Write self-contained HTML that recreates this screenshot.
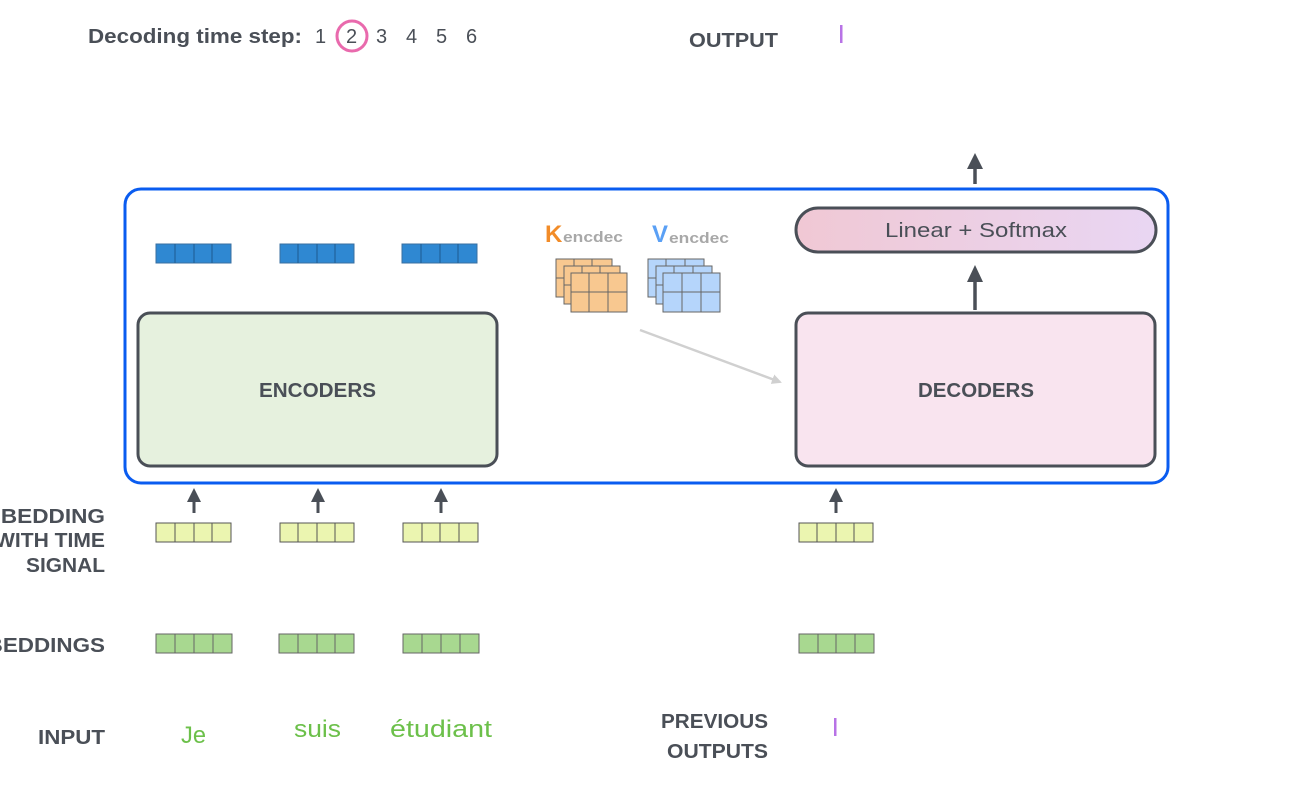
<!DOCTYPE html>
<html><head><meta charset="utf-8"><style>
html,body{margin:0;padding:0;background:#fff;}
svg{display:block;font-family:"Liberation Sans",sans-serif;}
.t{fill:#4a4f57;font-weight:bold;font-size:20px;}
</style></head><body>
<svg width="1291" height="790" viewBox="0 0 1291 790" xmlns="http://www.w3.org/2000/svg">
<defs>
<linearGradient id="lg" x1="0" x2="1" y1="0" y2="0"><stop offset="0" stop-color="#f0c8d4"/><stop offset="1" stop-color="#e9d6f3"/></linearGradient>
<marker id="ga" markerWidth="10" markerHeight="10" refX="8" refY="5" orient="auto" markerUnits="userSpaceOnUse"><path d="M0,0 L10,5 L0,10 z" fill="#d0d0d0"/></marker>
</defs>
<text x="88" y="43" fill="#4a4f57" font-size="20" font-weight="bold" textLength="214" lengthAdjust="spacingAndGlyphs">Decoding time step:</text>
<text x="315" y="43" fill="#4a4f57" font-size="20">1</text>
<circle cx="352" cy="36" r="15" fill="none" stroke="#e96aad" stroke-width="3"/>
<text x="346" y="43" fill="#4a4f57" font-size="20">2</text>
<text x="376" y="43" fill="#4a4f57" font-size="20">3</text>
<text x="406" y="43" fill="#4a4f57" font-size="20">4</text>
<text x="436" y="43" fill="#4a4f57" font-size="20">5</text>
<text x="466" y="43" fill="#4a4f57" font-size="20">6</text>
<text x="689" y="47" class="t" textLength="89" lengthAdjust="spacingAndGlyphs">OUTPUT</text>
<rect x="840" y="25" width="2.5" height="18" fill="#b873e6"/>

<line x1="975" y1="184" x2="975" y2="168" stroke="#4a4f57" stroke-width="3.5"/>
<path d="M967,169 L975,153 L983,169 z" fill="#4a4f57"/>

<rect x="125" y="189" width="1043" height="294" rx="16" fill="none" stroke="#0a5cf0" stroke-width="3"/>

<g stroke="#3a6fa0" stroke-width="1" fill="#2f88d2">
<rect x="156" y="244" width="75" height="19"/><rect x="280" y="244" width="74" height="19"/><rect x="402" y="244" width="75" height="19"/>
</g>
<g stroke="#1e5a90" stroke-width="1">
<line x1="175" y1="244" x2="175" y2="263"/><line x1="194" y1="244" x2="194" y2="263"/><line x1="212" y1="244" x2="212" y2="263"/>
<line x1="298" y1="244" x2="298" y2="263"/><line x1="317" y1="244" x2="317" y2="263"/><line x1="335" y1="244" x2="335" y2="263"/>
<line x1="421" y1="244" x2="421" y2="263"/><line x1="440" y1="244" x2="440" y2="263"/><line x1="458" y1="244" x2="458" y2="263"/>
</g>

<text x="545" y="242" fill="#f28c28" font-size="24" font-weight="bold">K</text>
<text x="563" y="242" fill="#a8a8a8" font-size="15" font-weight="bold" textLength="60" lengthAdjust="spacingAndGlyphs">encdec</text>
<text x="652" y="242" fill="#5aa0f5" font-size="24" font-weight="bold">V</text>
<text x="669" y="243" fill="#a8a8a8" font-size="15" font-weight="bold" textLength="60" lengthAdjust="spacingAndGlyphs">encdec</text>
<g stroke="#666" stroke-width="1" fill="#f8c890">
<rect x="556" y="259" width="56" height="38"/><rect x="564" y="266" width="56" height="38"/><rect x="571" y="273" width="56" height="39"/>
<path d="M574,259V266M592,259V266M556,278H564M582,266V273M600,266V273M564,285H571M589,273V312M608,273V312M571,292H627" fill="none"/>
</g>
<g stroke="#666" stroke-width="1" fill="#b5d5fb">
<rect x="648" y="259" width="56" height="38"/><rect x="656" y="266" width="56" height="38"/><rect x="663" y="273" width="57" height="39"/>
<path d="M666,259V266M685,259V266M648,278H656M674,266V273M693,266V273M656,285H663M682,273V312M701,273V312M663,292H720" fill="none"/>
</g>
<line x1="640" y1="330" x2="780" y2="382" stroke="#d0d0d0" stroke-width="2.5" marker-end="url(#ga)"/>

<rect x="796" y="208" width="360" height="44" rx="22" fill="url(#lg)" stroke="#4a4f57" stroke-width="3"/>
<text x="885" y="237" fill="#4a4f57" font-size="20" textLength="182" lengthAdjust="spacingAndGlyphs">Linear + Softmax</text>
<line x1="975" y1="310" x2="975" y2="280" stroke="#4a4f57" stroke-width="3.5"/>
<path d="M967,282 L975,265 L983,282 z" fill="#4a4f57"/>

<rect x="138" y="313" width="359" height="153" rx="12" fill="#e6f1de" stroke="#4a4f57" stroke-width="3"/>
<text x="259" y="397" class="t" textLength="117" lengthAdjust="spacingAndGlyphs">ENCODERS</text>
<rect x="796" y="313" width="359" height="153" rx="12" fill="#f9e4ef" stroke="#4a4f57" stroke-width="3"/>
<text x="918" y="397" class="t" textLength="116" lengthAdjust="spacingAndGlyphs">DECODERS</text>

<g fill="#4a4f57" stroke="#4a4f57">
<line x1="194" y1="513" x2="194" y2="500" stroke-width="3"/><path d="M187,502 L194,488 L201,502 z" stroke="none"/>
<line x1="318" y1="513" x2="318" y2="500" stroke-width="3"/><path d="M311,502 L318,488 L325,502 z" stroke="none"/>
<line x1="441" y1="513" x2="441" y2="500" stroke-width="3"/><path d="M434,502 L441,488 L448,502 z" stroke="none"/>
<line x1="836" y1="513" x2="836" y2="500" stroke-width="3"/><path d="M829,502 L836,488 L843,502 z" stroke="none"/>
</g>

<g stroke="#555" stroke-width="1" fill="#ebf5b0">
<rect x="156" y="523" width="75" height="19"/><rect x="280" y="523" width="74" height="19"/><rect x="403" y="523" width="75" height="19"/><rect x="799" y="523" width="74" height="19"/>
<path d="M175,523V542M194,523V542M212,523V542M298,523V542M317,523V542M335,523V542M422,523V542M440,523V542M459,523V542M817,523V542M836,523V542M854,523V542" fill="none"/>
</g>
<g stroke="#666" stroke-width="1" fill="#a8d890">
<rect x="156" y="634" width="76" height="19"/><rect x="279" y="634" width="75" height="19"/><rect x="403" y="634" width="76" height="19"/><rect x="799" y="634" width="75" height="19"/>
<path d="M175,634V653M194,634V653M213,634V653M298,634V653M317,634V653M335,634V653M422,634V653M441,634V653M460,634V653M818,634V653M836,634V653M855,634V653" fill="none"/>
</g>

<text x="-33" y="523" class="t" textLength="138" lengthAdjust="spacingAndGlyphs">EMBEDDING</text>
<text x="-5" y="547" class="t" textLength="110" lengthAdjust="spacingAndGlyphs">WITH TIME</text>
<text x="26" y="572" class="t" textLength="79" lengthAdjust="spacingAndGlyphs">SIGNAL</text>
<text x="-47" y="652" class="t" textLength="152" lengthAdjust="spacingAndGlyphs">EMBEDDINGS</text>
<text x="38" y="744" class="t" textLength="67" lengthAdjust="spacingAndGlyphs">INPUT</text>

<text x="181" y="743" fill="#6cc04a" font-size="24" textLength="25" lengthAdjust="spacingAndGlyphs">Je</text>
<text x="294" y="737" fill="#6cc04a" font-size="24" textLength="47" lengthAdjust="spacingAndGlyphs">suis</text>
<text x="390" y="737" fill="#6cc04a" font-size="24" textLength="102" lengthAdjust="spacingAndGlyphs">étudiant</text>

<text x="661" y="728" class="t" textLength="107" lengthAdjust="spacingAndGlyphs">PREVIOUS</text>
<text x="667" y="758" class="t" textLength="101" lengthAdjust="spacingAndGlyphs">OUTPUTS</text>
<rect x="834" y="718" width="2.5" height="18" fill="#b873e6"/>
</svg>
</body></html>
